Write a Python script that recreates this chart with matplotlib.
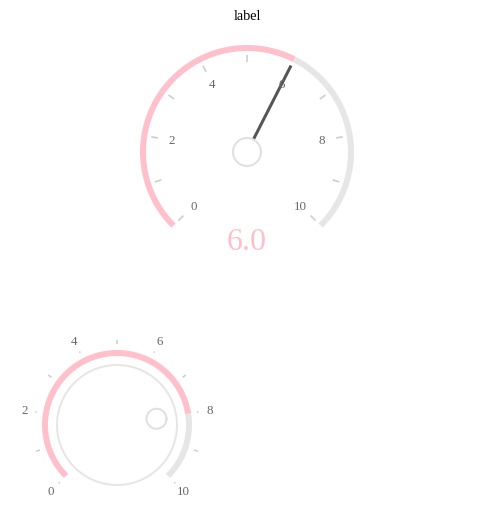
import numpy as np
import matplotlib
matplotlib.use("Agg")
import matplotlib.pyplot as plt

title = "label"
values = [6.0, 8.0]
vmin, vmax = 0, 10
minor_ticks = list(range(0, 11))
major_ticks = [0, 2, 4, 6, 8, 10]
tick_labels = ["0", "2", "4", "6", "8", "10"]

PINK = "#ffc0cb"
GRAY = "#e6e6e6"
TICK = "#cccccc"
LABEL = "#666666"
SERIF = ["Liberation Serif", "DejaVu Serif"]

fig = plt.figure(figsize=(4.91, 5.31), dpi=100)
ax = fig.add_axes([0, 0, 1, 1])
ax.set_xlim(0, 491)
ax.set_ylim(531, 0)
ax.axis("off")

PT = 0.72  # px -> pt at dpi 100


def ang(v):
    return np.deg2rad(225 - (v - vmin) / (vmax - vmin) * 270)


def pt(cx, cy, r, a):
    return cx + r * np.cos(a), cy - r * np.sin(a)


def arc(cx, cy, r, v0, v1, color, lw):
    a = np.linspace(ang(v0), ang(v1), 200)
    x, y = pt(cx, cy, r, a)
    ax.plot(x, y, color=color, lw=lw * PT, solid_capstyle="butt")


def circle(cx, cy, r, color, lw):
    a = np.linspace(0, 2 * np.pi, 300)
    x, y = pt(cx, cy, r, a)
    ax.plot(x, y, color=color, lw=lw * PT)


# ---- Gauge 1 (needle) ----
cx, cy, R = 247, 152, 104
v = values[0]
arc(cx, cy, R, v, vmax, GRAY, 6)
arc(cx, cy, R, vmin, v, PINK, 6)
for t in minor_ticks:
    a = ang(t)
    x0, y0 = pt(cx, cy, 90, a)
    x1, y1 = pt(cx, cy, 97, a)
    ax.plot([x0, x1], [y0, y1], color=TICK, lw=1.6 * PT, solid_capstyle="butt")
for t, lab in zip(major_ticks, tick_labels):
    x, y = pt(cx, cy, 76, ang(t))
    ax.text(x, y + 1, lab, ha="center", va="center", fontsize=9.3, color=LABEL, family=SERIF)
circle(cx, cy, 14, "#e0e0e0", 2)
a = ang(v)
x0, y0 = pt(cx, cy, 15, a)
x1, y1 = pt(cx, cy, 97, a)
ax.plot([x0, x1], [y0, y1], color="#555555", lw=3 * PT, solid_capstyle="butt")
ax.text(cx, 243, f"{v:.1f}", ha="center", va="center", fontsize=23, color=PINK, family=SERIF)

ax.text(cx, 16, title, ha="center", va="center", fontsize=10.3, color="black", family=SERIF)

# ---- Gauge 2 (knob) ----
cx2, cy2, R2 = 117, 425, 72
v2 = values[1]
arc(cx2, cy2, R2, v2, vmax, GRAY, 6)
arc(cx2, cy2, R2, vmin, v2, PINK, 6)
circle(cx2, cy2, 60, "#e6e6e6", 2)
for t in minor_ticks:
    a = ang(t)
    ln = 1.5 if t in major_ticks else 4
    x0, y0 = pt(cx2, cy2, 81, a)
    x1, y1 = pt(cx2, cy2, 81 + ln, a)
    ax.plot([x0, x1], [y0, y1], color=TICK, lw=1.5 * PT, solid_capstyle="butt")
for t, lab in zip(major_ticks, tick_labels):
    x, y = pt(cx2, cy2, 94, ang(t))
    ax.text(x, y + 1, lab, ha="center", va="center", fontsize=9.3, color=LABEL, family=SERIF)
kx, ky = pt(cx2, cy2, 40, ang(v2))
circle(kx, ky, 10, "#e0e0e0", 2)

fig.savefig("out.png", dpi=100, facecolor="white")
